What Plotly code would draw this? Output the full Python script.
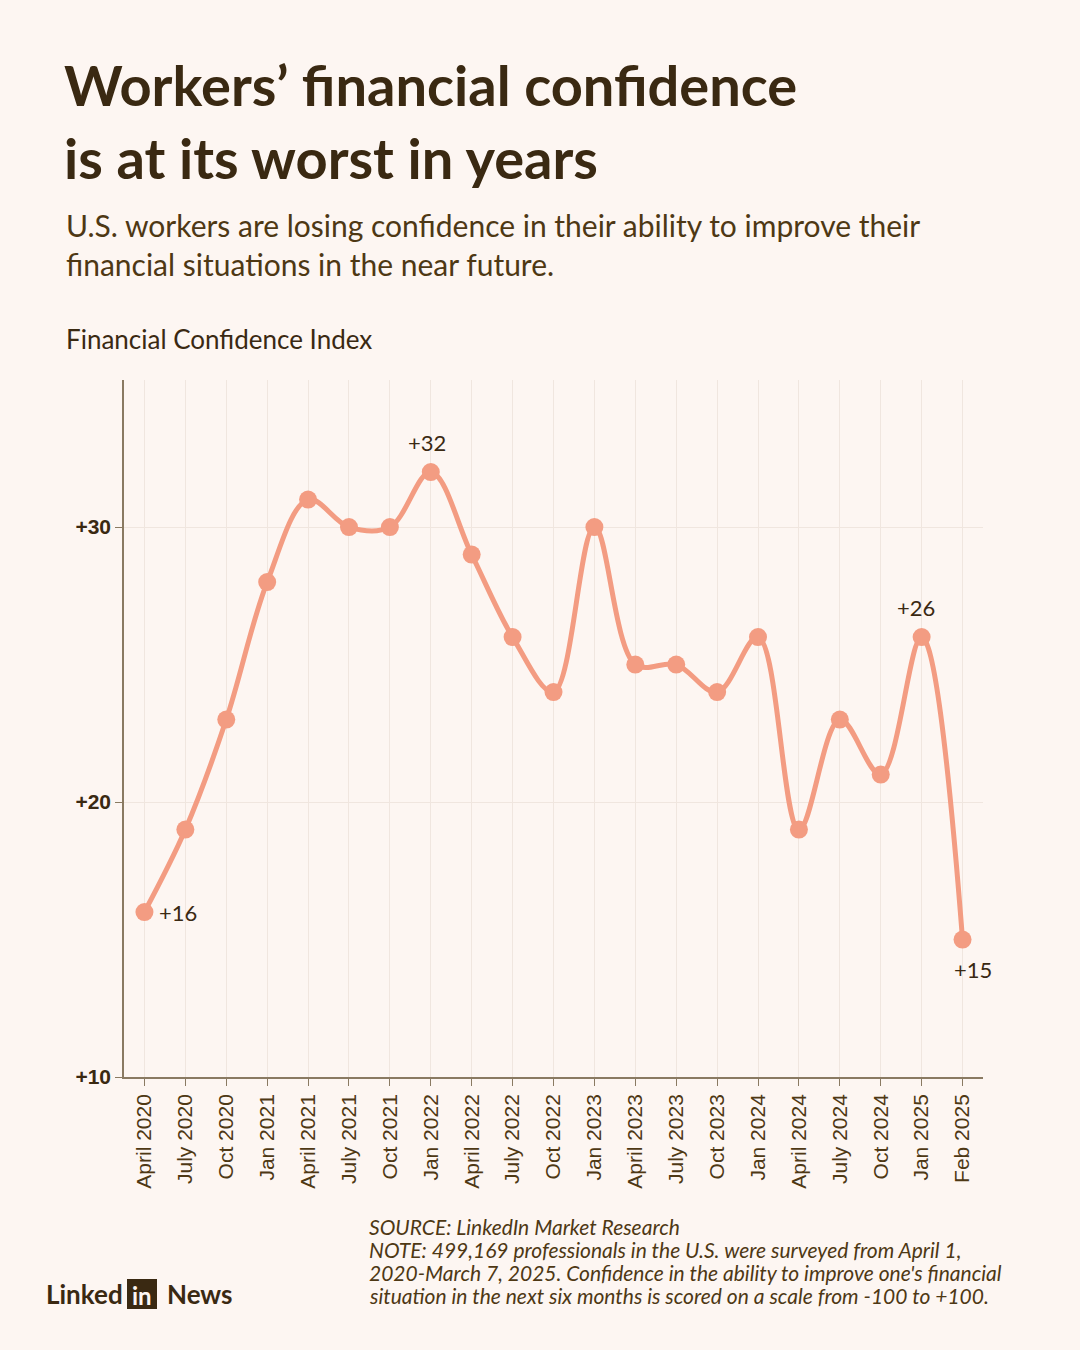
import plotly.graph_objects as go

categories = ["April 2020", "July 2020", "Oct 2020", "Jan 2021", "April 2021", "July 2021",
              "Oct 2021", "Jan 2022", "April 2022", "July 2022", "Oct 2022", "Jan 2023",
              "April 2023", "July 2023", "Oct 2023", "Jan 2024", "April 2024", "July 2024",
              "Oct 2024", "Jan 2025", "Feb 2025"]
values = [16, 19, 23, 28, 31, 30, 30, 32, 29, 26, 24, 30, 25, 25, 24, 26, 19, 23, 21, 26, 15]
y_tick_vals = [10, 20, 30]
y_tick_text = ["+10", "+20", "+30"]

title_lines = ["Workers’ financial confidence", "is at its worst in years"]
subtitle_lines = ["U.S. workers are losing confidence in their ability to improve their",
                  "financial situations in the near future."]
note_lines = ["SOURCE: LinkedIn Market Research",
              "NOTE: 499,169 professionals in the U.S. were surveyed from April 1,",
              "2020-March 7, 2025. Confidence in the ability to improve one's financial",
              "situation in the next six months is scored on a scale from -100 to +100."]

BG = "#fdf6f2"
DARK = "#3a2912"
BROWN = "#4e3814"
LINE = "#f39c82"
AXIS = "#8a7a62"

W, H = 1080, 1350
L, R, T, B = 124, 983, 380, 1077


def px(x):
    return (x - L) / (R - L)


def py(y):
    return (B - y) / (B - T)


fig = go.Figure()
fig.add_trace(go.Scatter(
    x=categories, y=values, mode="lines+markers",
    line=dict(color=LINE, width=5, shape="spline", smoothing=1.0),
    marker=dict(color=LINE, size=18),
    hoverinfo="skip", showlegend=False,
))

ann = []
label_font = dict(family="Lato, 'Open Sans', sans-serif", size=22, color=DARK)
ann.append(dict(x=categories[0], y=values[0], xref="x", yref="y", text=f"+{values[0]}",
                showarrow=False, xanchor="left", yanchor="middle", xshift=13, font=label_font))
ann.append(dict(x=categories[7], y=values[7], xref="x", yref="y", text=f"+{values[7]}",
                showarrow=False, xanchor="center", yanchor="bottom", xshift=-4, yshift=14, font=label_font))
ann.append(dict(x=categories[19], y=values[19], xref="x", yref="y", text=f"+{values[19]}",
                showarrow=False, xanchor="center", yanchor="bottom", xshift=-6, yshift=14, font=label_font))
ann.append(dict(x=categories[20], y=values[20], xref="x", yref="y", text=f"+{values[20]}",
                showarrow=False, xanchor="center", yanchor="top", xshift=10, yshift=-14, font=label_font))


def text_line(txt, x, ymid, size, color, weight="normal", style="normal", anchor="left"):
    return dict(x=px(x), y=py(ymid), xref="paper", yref="paper", xanchor=anchor, yanchor="middle",
                showarrow=False, align="left", text=txt,
                font=dict(family="Lato, Inter, sans-serif", size=size, color=color,
                          weight=weight, style=style))


# Title (single block)
ann.append(text_line("<br>".join(title_lines), 62, 121, 56, DARK, weight="bold"))
# Subtitle
for i, t in enumerate(subtitle_lines):
    ann.append(text_line(t, 64, 225 + 39 * i, 30, BROWN))
# Axis title
ann.append(text_line("Financial Confidence Index", 64, 339, 26, DARK))
# Source / note
for i, t in enumerate(note_lines):
    ann.append(text_line(t, 367, 1226 + 23 * i, 21, BROWN, style="italic"))
# Logo
ann.append(text_line("Linked", 125, 1294, 26, DARK, weight="bold", anchor="right"))
ann.append(text_line("in", 142, 1295, 24, BG, weight="bold", anchor="center"))
ann.append(text_line("News", 165, 1294, 26, DARK, weight="bold"))

shapes = [dict(type="rect", xref="paper", yref="paper", x0=px(127), x1=px(157),
               y0=py(1309), y1=py(1279), fillcolor=DARK, line=dict(width=0), layer="above")]

tick_font = dict(family="'Liberation Sans Narrow', 'Arial Narrow', 'Liberation Sans', sans-serif",
                 size=21, color=BROWN)

fig.update_layout(
    width=W, height=H,
    paper_bgcolor=BG, plot_bgcolor=BG,
    margin=dict(l=L, r=W - R, t=T, b=H - B, pad=0),
    annotations=ann, shapes=shapes,
    xaxis=dict(
        type="category", range=[-0.5, 20.5],
        showgrid=True, gridcolor="#f0e6df", gridwidth=1,
        showline=True, linecolor=AXIS, linewidth=1.5,
        ticks="outside", ticklen=7, tickcolor=AXIS,
        tickangle=-90, tickfont=tick_font,
        zeroline=False, fixedrange=True,
    ),
    yaxis=dict(
        range=[10, 35.35], tickvals=y_tick_vals, ticktext=y_tick_text,
        showgrid=True, gridcolor="#f0e6df", gridwidth=1,
        showline=True, linecolor=AXIS, linewidth=1.5,
        ticks="outside", ticklen=7, tickcolor=AXIS,
        tickfont=dict(family=tick_font["family"], size=21, color=DARK, weight="bold"),
        zeroline=False, fixedrange=True,
    ),
)

fig.write_html("out.html")
